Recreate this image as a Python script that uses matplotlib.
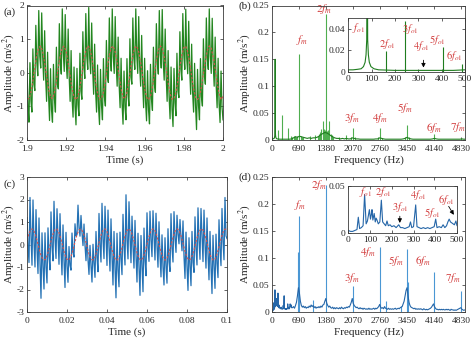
import numpy as np
import matplotlib
matplotlib.use('Agg')
import matplotlib.pyplot as plt

plt.rcParams['font.family'] = ['Liberation Serif', 'DejaVu Serif']
plt.rcParams['mathtext.fontset'] = 'stix'
plt.rcParams['axes.unicode_minus'] = False

# ---------------- data ----------------
# (a) measured time signal, 1.9 s .. 2.0 s, step 0.5 ms
sig_a = [0.13, -1.00, -1.47, 0.30, -0.83, -1.17, 0.71, -0.34, -0.53, 1.41,
         0.33, -0.09, 1.85, 0.50, 0.14, 1.78, 0.47, -0.22, 1.25, -0.14,
         -0.85, 0.61, -0.67, -1.42, 0.12, -1.10, -1.47, 0.25, -0.78, -1.17,
         0.76, -0.34, -0.48, 1.46, 0.28, -0.04, 1.90, 0.60, 0.04, 1.73,
         0.32, -0.17, 1.30, -0.09, -0.85, 0.66, -0.77, -1.32, 0.17, -0.99,
         -1.55, 0.13, -0.95, -1.28, 0.58, -0.54, -0.79, 1.22, 0.16, -0.17,
         1.76, 0.50, 0.10, 1.94, 0.43, -0.03, 1.48, 0.10, -0.64, 0.85,
         -0.54, -1.17, 0.23, -1.03, -1.54, 0.10, -0.97, -1.40, 0.42, -0.72,
         -0.99, 0.96, -0.08, -0.29, 1.63, 0.46, 0.05, 1.90, 0.49, -0.02,
         1.67, 0.28, -0.40, 1.06, -0.35, -1.04, 0.43, -0.92, -1.53, 0.05,
         -1.02, -1.40, 0.42, -0.62, -0.99, 1.01, -0.13, -0.34, 1.63, 0.46,
         0.10, 1.90, 0.54, -0.02, 1.67, 0.18, -0.40, 1.11, -0.30, -1.04,
         0.43, -0.87, -1.43, 0.06, -1.10, -1.52, 0.25, -0.78, -1.12, 0.76,
         -0.34, -0.58, 1.46, 0.33, -0.04, 1.85, 0.55, 0.14, 1.88, 0.32,
         -0.22, 1.30, -0.09, -0.85, 0.66, -0.72, -1.37, 0.17, -1.09, -1.60,
         0.13, -0.90, -1.28, 0.58, -0.54, -0.74, 1.22, 0.11, -0.22, 1.76,
         0.55, 0.10, 1.89, 0.43, -0.03, 1.53, 0.10, -0.64, 0.85, -0.59,
         -1.17, 0.28, -0.98, -1.69, 0.10, -0.97, -1.40, 0.42, -0.72, -0.99,
         1.01, -0.03, -0.34, 1.63, 0.41, 0.10, 1.90, 0.49, -0.02, 1.62,
         0.28, -0.40, 1.06, -0.35, -1.04, 0.43, -0.92, -1.48, 0.05, -1.02,
         -1.40]
# (a) low-frequency component (red dashed), step 1 ms
red_a = [-0.77, -0.77, -0.58, -0.24, 0.17, 0.53, 0.75, 0.79, 0.62, 0.30,
         -0.10, -0.47, -0.73, -0.77, -0.58, -0.24, 0.17, 0.53, 0.75, 0.79,
         0.62, 0.30, -0.10, -0.47, -0.73, -0.80, -0.70, -0.42, -0.04, 0.36,
         0.66, 0.80, 0.73, 0.48, 0.11, -0.29, -0.62, -0.79, -0.77, -0.58,
         -0.24, 0.17, 0.53, 0.75, 0.79, 0.62, 0.30, -0.10, -0.47, -0.73,
         -0.77, -0.58, -0.24, 0.17, 0.53, 0.75, 0.79, 0.62, 0.30, -0.10,
         -0.47, -0.73, -0.80, -0.70, -0.42, -0.04, 0.36, 0.66, 0.80, 0.73,
         0.48, 0.11, -0.29, -0.62, -0.79, -0.77, -0.58, -0.24, 0.17, 0.53,
         0.75, 0.79, 0.62, 0.30, -0.10, -0.47, -0.73, -0.80, -0.70, -0.42,
         -0.04, 0.36, 0.66, 0.80, 0.73, 0.48, 0.11, -0.29, -0.62, -0.80,
         -0.70]

# (c) simulated time signal, 0 .. 0.1 s, step 0.5 ms
sig_c = [1.19, -0.05, -0.80, 2.09, 0.38, -0.92, 1.98, 0.09, -1.00, 1.55,
         -0.21, -1.29, 1.18, -0.83, -2.39, 0.52, -0.97, -1.98, 0.52, -1.00,
         -1.71, 0.74, -0.51, -1.13, 1.45, -0.09, -0.73, 1.92, 0.27, -0.62,
         1.59, 0.31, -0.88, 1.37, -0.28, -1.35, 0.87, -0.70, -1.91, 0.54,
         -0.96, -1.68, -0.09, -0.92, -1.14, 0.51, -0.34, -0.56, 0.92, 0.38,
         0.44, 1.75, 0.75, 0.37, 1.29, 0.52, -0.05, 0.91, -0.04, -0.72,
         0.50, -0.67, -1.33, -0.04, -0.95, -1.67, 0.01, -0.83, -1.46, 0.58,
         -0.57, -1.21, 1.38, -0.05, -0.78, 1.83, 0.24, -0.63, 1.70, 0.34,
         -0.93, 1.53, -0.11, -1.18, 1.14, -0.53, -1.80, 0.58, -1.03, -2.37,
         0.50, -1.14, -1.88, 0.55, -0.61, -1.34, 1.34, -0.08, -0.91, 2.21,
         0.22, -0.64, 1.90, 0.35, -0.81, 1.26, -0.08, -1.05, 1.07, -0.50,
         -1.67, 0.50, -1.02, -2.26, 0.40, -0.95, -2.10, 0.73, -0.74, -1.39,
         1.41, -0.12, -0.75, 1.48, 0.21, -0.54, 1.50, 0.36, -0.69, 1.39,
         -0.04, -1.01, 1.01, -0.47, -1.44, 0.43, -1.00, -1.80, 0.30, -0.96,
         -1.72, 0.70, -0.77, -1.20, 1.37, -0.15, -0.78, 1.46, 0.29, -0.35,
         1.30, 0.47, 0.03, 1.11, 0.29, -0.28, 1.05, -0.53, -1.51, 0.55,
         -0.98, -2.04, 0.30, -0.97, -1.83, 0.58, -0.80, -1.24, 1.23, -0.19,
         -0.91, 1.63, 0.17, -0.66, 1.60, 0.37, -0.76, 1.53, 0.02, -1.05,
         1.18, -0.40, -1.57, 0.58, -0.96, -2.18, 0.41, -0.97, -1.95, 0.46,
         -0.83, -1.47, 1.10, -0.22, -0.94, 1.60, 0.14, -0.68, 2.09, 0.38,
         0.26]
red_c = [0.19, 0.50, 0.68, 0.68, 0.50, 0.19, -0.17, -0.49, -0.67, -0.68,
         -0.51, -0.21, 0.15, 0.47, 0.67, 0.69, 0.52, 0.22, -0.13, -0.46,
         -0.66, -0.69, -0.54, -0.24, 0.12, 0.44, 0.65, 0.69, 0.55, 0.26,
         -0.10, -0.43, -0.65, -0.69, -0.56, -0.27, 0.08, 0.42, 0.64, 0.70,
         0.57, 0.29, -0.06, -0.40, -0.63, -0.70, -0.58, -0.31, 0.04, 0.39,
         0.62, 0.70, 0.59, 0.32, -0.03, -0.37, -0.62, -0.70, -0.60, -0.34,
         0.01, 0.35, 0.61, 0.70, 0.61, 0.36, 0.01, -0.34, -0.60, -0.70,
         -0.62, -0.37, -0.03, 0.32, 0.59, 0.70, 0.63, 0.39, 0.05, -0.31,
         -0.58, -0.70, -0.63, -0.40, -0.07, 0.29, 0.57, 0.70, 0.64, 0.42,
         0.08, -0.27, -0.56, -0.69, -0.65, -0.43, -0.10, 0.26, 0.54, 0.69,
         0.66]

# (b) spectrum: low-frequency detail, broadband floor (50 Hz grid from 550 Hz), discrete peaks
b_low_f = [0, 20, 40, 55, 65, 72, 76, 79, 81, 83, 86, 90, 97, 110, 130, 160,
           200, 250, 300, 350, 400, 450, 500]
b_low_a = [0.002, 0.002, 0.0025, 0.003, 0.005, 0.009, 0.016, 0.03, 0.15, 0.03,
           0.016, 0.009, 0.005, 0.003, 0.002, 0.0018, 0.0015, 0.0015, 0.0015,
           0.0015, 0.0015, 0.0015, 0.002]
b_floor = [0.004, 0.006, 0.005, 0.007, 0.006, 0.005, 0.004, 0.003,
           0.004, 0.003, 0.004, 0.004, 0.005, 0.007, 0.010, 0.012,
           0.014, 0.013, 0.011, 0.008, 0.006, 0.004, 0.003, 0.003,
           0.002, 0.003, 0.002, 0.003, 0.002, 0.002, 0.004, 0.003,
           0.002, 0.002, 0.0015, 0.0015, 0.0015, 0.0015, 0.0015, 0.0015,
           0.0015, 0.0015, 0.002, 0.002, 0.004, 0.003, 0.002, 0.0015,
           0.0015, 0.0015, 0.0015, 0.0015, 0.0015, 0.0015, 0.0015, 0.0015,
           0.002, 0.003, 0.005, 0.003, 0.002, 0.0015, 0.0015, 0.0015,
           0.0015, 0.0015, 0.0015, 0.0015, 0.0015, 0.0015, 0.0015, 0.002,
           0.003, 0.002, 0.0015, 0.0015, 0.0015, 0.0015, 0.0015, 0.0015,
           0.0015, 0.0015, 0.0015, 0.0015, 0.0015, 0.0015, 0.002, 0.0015,
           0.0015]
b_peak_f = [162, 243, 405, 486, 520, 560, 600, 620, 650, 690, 730, 760, 800,
            960, 1100, 1180, 1210, 1230, 1260, 1300, 1320, 1340, 1360, 1380,
            1400, 1420, 1440, 1460, 1500, 1520, 1560, 1720, 1900, 2030, 2070,
            2110, 2720, 2760, 2800, 3410, 3450, 3490, 4140, 4830]
b_peak_a = [0.019, 0.047, 0.023, 0.007, 0.005, 0.008, 0.007, 0.006, 0.008,
            0.160, 0.007, 0.006, 0.005, 0.008, 0.010, 0.008, 0.012, 0.015,
            0.020, 0.035, 0.012, 0.020, 0.018, 0.235, 0.016, 0.018, 0.012,
            0.035, 0.012, 0.010, 0.006, 0.006, 0.010, 0.006, 0.022, 0.005,
            0.005, 0.022, 0.004, 0.006, 0.028, 0.006, 0.012, 0.004]

# (d) spectrum: low-frequency detail, floor (25 Hz grid from 525 Hz), discrete peaks
d_low_f = [0, 10, 20, 30, 40, 46, 52, 60, 68, 75, 82, 88, 93, 97, 102, 106,
           109, 113, 119, 124, 128, 132, 138, 145, 152, 158, 165, 172, 178,
           184, 192, 200, 210, 220, 232, 240, 250, 260, 270, 280, 286, 292,
           300, 310, 316, 325, 335, 345, 355, 365, 375, 385, 395, 402, 408,
           418, 428, 436, 444, 452, 458, 464, 470, 476, 482, 488, 495, 500]
d_low_a = [0.003, 0.002, 0.002, 0.003, 0.004, 0.017, 0.005, 0.006, 0.008,
           0.041, 0.010, 0.013, 0.020, 0.025, 0.015, 0.020, 0.025, 0.014,
           0.021, 0.012, 0.016, 0.014, 0.010, 0.012, 0.035, 0.012, 0.010,
           0.008, 0.013, 0.008, 0.009, 0.007, 0.008, 0.006, 0.009, 0.006,
           0.006, 0.005, 0.006, 0.007, 0.012, 0.006, 0.007, 0.030, 0.007,
           0.006, 0.005, 0.006, 0.005, 0.006, 0.005, 0.006, 0.007, 0.015,
           0.006, 0.007, 0.006, 0.009, 0.006, 0.008, 0.012, 0.015, 0.012,
           0.011, 0.010, 0.009, 0.013, 0.008]
d_floor = [0.008, 0.010, 0.007, 0.012, 0.018, 0.030, 0.045, 0.035,
           0.020, 0.012, 0.009, 0.011, 0.008, 0.010, 0.007, 0.009,
           0.008, 0.011, 0.009, 0.013, 0.010, 0.012, 0.008, 0.010,
           0.007, 0.009, 0.008, 0.010, 0.008, 0.011, 0.009, 0.013,
           0.014, 0.020, 0.025, 0.016, 0.012, 0.009, 0.011, 0.008,
           0.007, 0.009, 0.006, 0.008, 0.006, 0.008, 0.007, 0.006,
           0.008, 0.006, 0.009, 0.007, 0.006, 0.008, 0.007, 0.009,
           0.008, 0.010, 0.009, 0.013, 0.018, 0.025, 0.016, 0.012,
           0.010, 0.008, 0.009, 0.007, 0.006, 0.008, 0.006, 0.007,
           0.005, 0.007, 0.006, 0.005, 0.006, 0.005, 0.007, 0.005,
           0.006, 0.005, 0.006, 0.007, 0.005, 0.007, 0.006, 0.008,
           0.010, 0.014, 0.009, 0.007, 0.008, 0.006, 0.010, 0.007,
           0.006, 0.005, 0.007, 0.005, 0.006, 0.005, 0.006, 0.005,
           0.006, 0.007, 0.005, 0.006, 0.007, 0.006, 0.008, 0.009,
           0.010, 0.015, 0.020, 0.030, 0.040, 0.045, 0.030, 0.018,
           0.012, 0.009, 0.008, 0.007, 0.006, 0.007, 0.005, 0.006,
           0.005, 0.006, 0.005, 0.006, 0.005, 0.004, 0.006, 0.005,
           0.004, 0.005, 0.004, 0.005, 0.006, 0.007, 0.009, 0.012,
           0.015, 0.010, 0.007, 0.005, 0.005, 0.004, 0.005, 0.004,
           0.005, 0.004, 0.005, 0.004, 0.004, 0.005, 0.004, 0.005,
           0.004, 0.003, 0.005, 0.004, 0.004, 0.003, 0.004, 0.003,
           0.004, 0.005, 0.006, 0.007, 0.008, 0.005, 0.004, 0.003,
           0.004, 0.003]
d_peak_f = [665, 690, 1050, 1380, 2070, 2760, 2900, 3300, 3450, 3480, 4140, 4830]
d_peak_a = [0.112, 0.177, 0.022, 0.235, 0.048, 0.120, 0.020, 0.012, 0.117,
            0.055, 0.074, 0.038]

harm_ticks = [0, 690, 1380, 2070, 2760, 3450, 4140, 4830]
fm_labels = ['$f_m$', '$2f_m$', '$3f_m$', '$4f_m$', '$5f_m$', '$6f_m$', '$7f_m$']
b_fm_pos = [(770, 0.185), (1330, 0.243), (2050, 0.040), (2770, 0.040),
            (3400, 0.059), (4130, 0.023), (4760, 0.024)]
d_fm_pos = [(720, 0.199), (1212, 0.236), (2034, 0.063), (2457, 0.112),
            (3177, 0.094), (3855, 0.094), (4618, 0.063)]
fo_labels = ['$f_{o1}$', '$2f_{o1}$', '$3f_{o1}$', '$4f_{o1}$', '$5f_{o1}$', '$6f_{o1}$']
b_fo_pos = [(42, 0.041), (169, 0.026), (265, 0.040), (314, 0.024), (380, 0.030), (452, 0.0145)]
d_fo_pos = [(77, 0.0435), (163, 0.0435), (240, 0.028), (320, 0.040), (387, 0.0214), (449, 0.0357)]

# ---------------- styles ----------------
W, H = 474, 339
GREEN = '#23861f'
GREEN_LINE = '#1f7d1f'
GREEN_PEAK = '#4fae4f'
BLUE = '#2371b4'
BLUE_LINE = '#2566a8'
BLUE_PEAK = '#4a97d4'
RED_DASH = '#d9534f'
RED = '#d23c3c'
TXT = '#262626'
TICK_FS = 6.8
LAB_FS = 8

fig = plt.figure(figsize=(W / 100, H / 100), dpi=100)


def px_axes(l, t, r, b):
    return fig.add_axes([l / W, 1 - b / H, (r - l) / W, (b - t) / H])


def style(ax, fs=TICK_FS, xpad=3.5):
    ax.tick_params(direction='in', top=True, right=True, length=2.5, width=0.5,
                   labelsize=fs, pad=2, colors=TXT)
    ax.tick_params(axis='x', pad=xpad)
    for s in ax.spines.values():
        s.set_linewidth(0.6)
        s.set_color('#3a3a3a')


fmt = matplotlib.ticker.FormatStrFormatter('%g')

# ---- (a)
ax_a = px_axes(27, 5.5, 223, 140)
t_a = np.linspace(1.9, 2.0, len(sig_a))
t_ar = np.linspace(1.9, 2.0, len(red_a))
ax_a.plot(t_a, sig_a, color=GREEN, lw=0.9)
ax_a.plot(t_ar, red_a, color=RED_DASH, lw=0.8, ls=(0, (2, 1.5)))
ax_a.set_xlim(1.9, 2.0)
ax_a.set_ylim(-2, 2)
ax_a.set_xticks([1.9, 1.92, 1.94, 1.96, 1.98, 2.0])
ax_a.set_yticks([-2, -1, 0, 1, 2])
ax_a.xaxis.set_major_formatter(fmt)
style(ax_a)
ax_a.set_xlabel('Time (s)', fontsize=LAB_FS, color=TXT, labelpad=2)
ax_a.set_ylabel('Amplitude (m/s$^2$)', fontsize=LAB_FS, color=TXT)
ax_a.yaxis.set_label_coords(-0.052, 0.5)

# ---- (c)
ax_c = px_axes(27, 177, 227, 312)
t_c = np.linspace(0, 0.1, len(sig_c))
t_cr = np.linspace(0, 0.1, len(red_c))
ax_c.plot(t_c, sig_c, color=BLUE, lw=0.9)
ax_c.plot(t_cr, red_c, color=RED_DASH, lw=0.8, ls=(0, (2, 1.5)))
ax_c.set_xlim(0, 0.1)
ax_c.set_ylim(-3, 3)
ax_c.set_xticks([0, 0.02, 0.04, 0.06, 0.08, 0.1])
ax_c.set_yticks([-3, -2, -1, 0, 1, 2, 3])
ax_c.xaxis.set_major_formatter(fmt)
style(ax_c)
ax_c.set_xlabel('Time (s)', fontsize=LAB_FS, color=TXT, labelpad=2)
ax_c.set_ylabel('Amplitude (m/s$^2$)', fontsize=LAB_FS, color=TXT)
ax_c.yaxis.set_label_coords(-0.05, 0.5)


def spectrum(ax, low_f, low_a, floor_f, floor_a, pk_f, pk_a, cline, cpeak, lw=0.8):
    f = list(low_f) + list(floor_f)
    a = list(low_a) + list(floor_a)
    ax.vlines(pk_f, 0, pk_a, color=cpeak, lw=lw)
    ax.plot(f, a, color=cline, lw=lw)


# ---- (b)
ax_b = px_axes(272, 5.5, 465, 140)
b_floor_f = np.arange(550, 4951, 50)
spectrum(ax_b, b_low_f, b_low_a, b_floor_f, b_floor, b_peak_f, b_peak_a, GREEN_LINE, GREEN_PEAK)
ax_b.set_xlim(0, 4930)
ax_b.set_ylim(0, 0.25)
ax_b.set_xticks(harm_ticks)
ax_b.set_yticks([0, 0.05, 0.1, 0.15, 0.2, 0.25])
ax_b.yaxis.set_major_formatter(fmt)
style(ax_b)
ax_b.set_xlabel('Frequency (Hz)', fontsize=LAB_FS, color=TXT, labelpad=2)
ax_b.set_ylabel('Amplitude (m/s$^2$)', fontsize=LAB_FS, color=TXT)
ax_b.yaxis.set_label_coords(-0.1, 0.5)
for lab, (x, y) in zip(fm_labels, b_fm_pos):
    ax_b.text(x, y, lab, color=RED, fontsize=8, ha='center', va='center', zorder=1)

# inset (b)
ax_bi = px_axes(348.3, 18, 465, 72)
spectrum(ax_bi, b_low_f, b_low_a, b_floor_f, b_floor, b_peak_f, b_peak_a, GREEN_LINE, GREEN_LINE)
ax_bi.set_xlim(0, 500)
ax_bi.set_ylim(0, 0.05)
ax_bi.set_xticks([0, 100, 200, 300, 400, 500])
ax_bi.set_yticks([0, 0.02, 0.04])
ax_bi.yaxis.set_major_formatter(fmt)
style(ax_bi, fs=6.8, xpad=2)
for lab, (x, y) in zip(fo_labels, b_fo_pos):
    ax_bi.text(x, y, lab, color=RED, fontsize=7.5, ha='center', va='center')
ax_bi.annotate('', xy=(322, 0.0015), xytext=(322, 0.0135),
               arrowprops=dict(arrowstyle='-|>', color='k', lw=0.6, mutation_scale=6))

# ---- (d)
ax_d = px_axes(272, 177, 465, 312)
d_floor_f = np.arange(525, 4951, 25)
spectrum(ax_d, d_low_f, d_low_a, d_floor_f, d_floor, d_peak_f, d_peak_a, BLUE_LINE, BLUE_PEAK)
ax_d.set_xlim(0, 4930)
ax_d.set_ylim(0, 0.25)
ax_d.set_xticks(harm_ticks)
ax_d.set_yticks([0, 0.05, 0.1, 0.15, 0.2, 0.25])
ax_d.yaxis.set_major_formatter(fmt)
style(ax_d)
ax_d.set_xlabel('Frequency (Hz)', fontsize=LAB_FS, color=TXT, labelpad=2)
ax_d.set_ylabel('Amplitude (m/s$^2$)', fontsize=LAB_FS, color=TXT)
ax_d.yaxis.set_label_coords(-0.1, 0.5)
for lab, (x, y) in zip(fm_labels, d_fm_pos):
    ax_d.text(x, y, lab, color=RED, fontsize=8, ha='center', va='center', zorder=1)

# inset (d)
ax_di = px_axes(348.3, 186, 457, 233.3)
spectrum(ax_di, d_low_f, d_low_a, d_floor_f, d_floor, d_peak_f, d_peak_a, BLUE_LINE, BLUE_LINE)
ax_di.set_xlim(0, 500)
ax_di.set_ylim(0, 0.05)
ax_di.set_xticks([0, 100, 200, 300, 400, 500])
ax_di.set_yticks([0, 0.05])
ax_di.yaxis.set_major_formatter(fmt)
style(ax_di, fs=6.8, xpad=2)
for lab, (x, y) in zip(fo_labels, d_fo_pos):
    ax_di.text(x, y, lab, color=RED, fontsize=7.5, ha='center', va='center')
ax_di.annotate('', xy=(237, 0.008), xytext=(237, 0.021),
               arrowprops=dict(arrowstyle='-|>', color='k', lw=0.6, mutation_scale=6))
ax_di.annotate('', xy=(492, 0.017), xytext=(455, 0.031),
               arrowprops=dict(arrowstyle='-|>', color='k', lw=0.6, mutation_scale=6))

# panel letters
for lab, (x, y) in zip(['(a)', '(b)', '(c)', '(d)'],
                       [(4, 12), (239, 6), (3, 184), (239, 177)]):
    fig.text(x / W, 1 - y / H, lab, fontsize=8, color=TXT, ha='left', va='center')

fig.savefig('out.png', dpi=100, facecolor='white')
